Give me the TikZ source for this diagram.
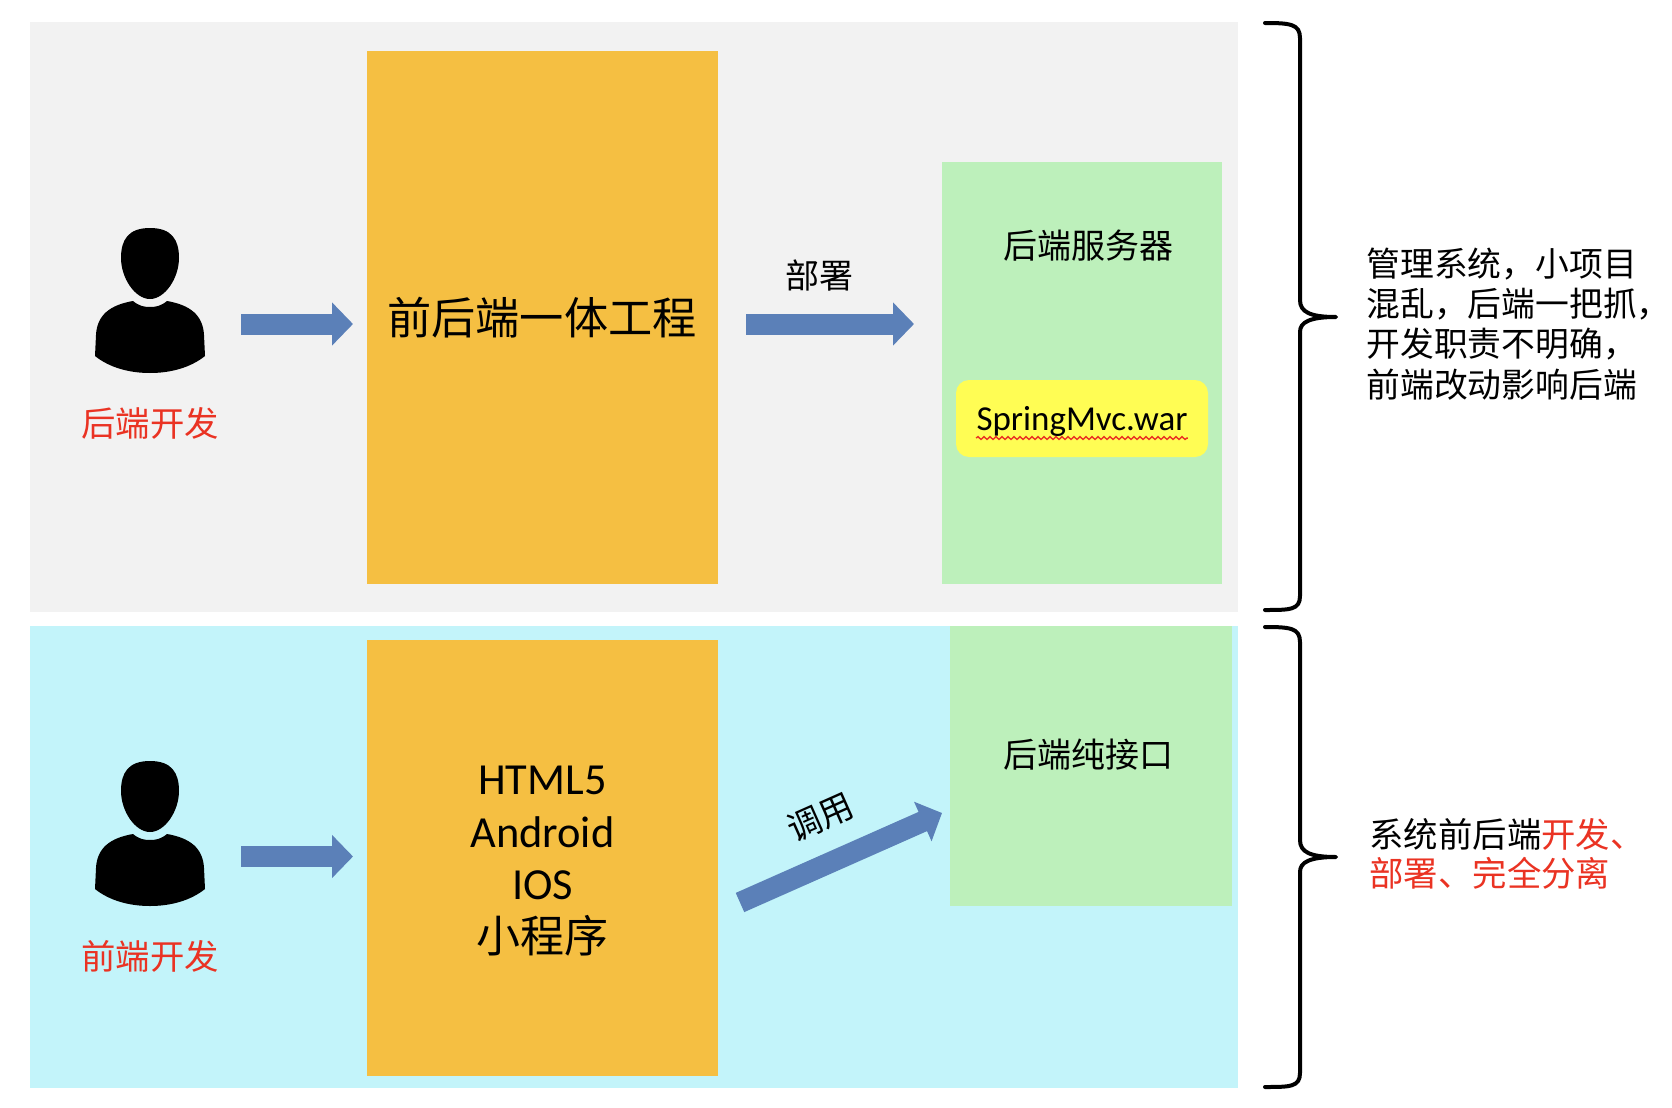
\documentclass[tikz,border=0pt]{standalone}
\usepackage{fontspec}
\setmainfont{Noto Sans CJK SC}
\newfontfamily\latfont{Carlito}
\usetikzlibrary{arrows.meta,decorations.pathmorphing}
\definecolor{panelgrey}{HTML}{F2F2F2}
\definecolor{panelcyan}{HTML}{C3F4FA}
\definecolor{boxorange}{HTML}{F5BF42}
\definecolor{boxgreen}{HTML}{BDF0BB}
\definecolor{boxyellow}{HTML}{FFFD54}
\definecolor{arrowblue}{HTML}{5B80B8}
\definecolor{txtred}{HTML}{EA3323}
\tikzset{
  box/.style={inner sep=0pt,outer sep=0pt,anchor=north west},
  lbl/.style={inner sep=0pt,font=\fontsize{17}{20.1}\selectfont},
  redlbl/.style={inner sep=0pt,text=txtred,font=\fontsize{17.2}{20.1}\selectfont},
  biglbl/.style={inner sep=0pt,align=center,font=\fontsize{22.1}{25.5}\selectfont},
  blockarrow/.style={draw=arrowblue,line width=10.5pt,-{Triangle[length=10.5pt,width=21pt,fill=arrowblue]}},
  bracestyle/.style={draw=black,line width=2pt,line cap=round,line join=round},
  person/.pic={
    \fill[black] (0,-96) .. controls (22,-96) and (29,-84) .. (29,-66)
      .. controls (29,-46) and (15,-25) .. (0,-25)
      .. controls (-15,-25) and (-29,-46) .. (-29,-66)
      .. controls (-29,-84) and (-22,-96) .. (0,-96) -- cycle;
    \fill[black] (-17,-23) .. controls (-11,-18) and (-6,-17) .. (0,-17)
      .. controls (6,-17) and (11,-18) .. (17,-23)
      .. controls (40,-19) and (53,-9) .. (54,11)
      -- (55,32) .. controls (40,44) and (20,49) .. (0,49)
      .. controls (-20,49) and (-40,44) .. (-55,32)
      -- (-54,11) .. controls (-53,-9) and (-40,-19) .. (-17,-23) -- cycle;
  }
}
\begin{document}
\begin{tikzpicture}[x=0.5pt,y=-0.5pt]
\useasboundingbox (0,0) rectangle (1672,1108);
% panels
\fill[panelgrey] (30,21.5) rectangle (1238,611.5);
\fill[panelcyan] (30,626) rectangle (1238,1088);
% boxes
\node[box,fill=boxorange,minimum width=175.5pt,minimum height=266.5pt] (mono) at (367,51) {};
\node[box,fill=boxorange,minimum width=175.5pt,minimum height=218pt] (front) at (367,640) {};
\node[box,fill=boxgreen,minimum width=140pt,minimum height=211pt] (server) at (942,162) {};
\node[box,fill=boxgreen,minimum width=141pt,minimum height=140pt] (api) at (950,626) {};
\node[box,fill=boxyellow,rounded corners=6.5pt,minimum width=126pt,minimum height=38.5pt] (war) at (956,380) {};
% persons
\pic at (150,324) {person};
\pic at (150,857) {person};
% arrows
\coordinate (a1s) at (241,324); \coordinate (a1e) at (353,324);
\coordinate (a2s) at (746,324); \coordinate (a2e) at (914,324);
\coordinate (a3s) at (241,856.5); \coordinate (a3e) at (353,856.5);
\coordinate (a4s) at (740,902.5); \coordinate (a4e) at (942,813);
\draw[blockarrow] (a1s) -- (a1e);
\draw[blockarrow] (a2s) -- (a2e);
\draw[blockarrow] (a3s) -- (a3e);
\draw[blockarrow] (a4s) -- (a4e);
% labels
\node[redlbl] (backdev) at (150,423.5) {后端开发};
\node[redlbl] (frontdev) at (150,956) {前端开发};
\node[biglbl] (monotxt) at (542,318) {前后端一体工程};
\node[lbl] (deploy) at (819,275.5) {部署};
\node[lbl] (servertxt) at (1088,246) {后端服务器};
\node[lbl] (apitxt) at (1088,755) {后端纯接口};
\node[lbl,rotate=24] (call) at (820,817) {调用};
\node[inner sep=0pt,font=\latfont\fontsize{17.5}{20}\selectfont] (wartxt) at (1082,421) {SpringMvc.war};
\draw[txtred,line width=0.7pt,decorate,decoration={snake,segment length=3pt,amplitude=0.7pt}]
  ([yshift=-0.8pt]wartxt.south west) -- ([yshift=-0.8pt]wartxt.south east);
\node[inner sep=0pt,align=center,font=\latfont\fontsize{22.2}{26.3}\selectfont] (h5) at (542.5,861)
  {HTML5\\Android\\IOS\\{\rmfamily\fontsize{22}{26.3}\selectfont 小程序}};
% braces
\draw[bracestyle] (1265,23) .. controls (1290,23) and (1300,24) .. (1300,38) -- (1300,300)
  .. controls (1300,312) and (1310,317) .. (1336,317)
  .. controls (1310,317) and (1300,322) .. (1300,332) -- (1300,596)
  .. controls (1300,610) and (1290,610) .. (1265,610);
\draw[bracestyle] (1265,627) .. controls (1290,627) and (1300,628) .. (1300,642) -- (1300,840)
  .. controls (1300,852) and (1310,857) .. (1336,857)
  .. controls (1310,857) and (1300,862) .. (1300,872) -- (1300,1073)
  .. controls (1300,1087) and (1290,1087) .. (1265,1087);
% right notes
\node[inner sep=0pt,anchor=west,align=left,font=\fontsize{16.9}{20.1}\selectfont] (note1) at (1366,324)
  {管理系统，小项目\\混乱，后端一把抓，\\开发职责不明确，\\前端改动影响后端};
\node[inner sep=0pt,anchor=west,align=left,font=\fontsize{17.2}{19.2}\selectfont] (note2) at (1369,854)
  {系统前后端{\color{txtred}开发、}\\{\color{txtred}部署、完全分离}};
\end{tikzpicture}
\end{document}
